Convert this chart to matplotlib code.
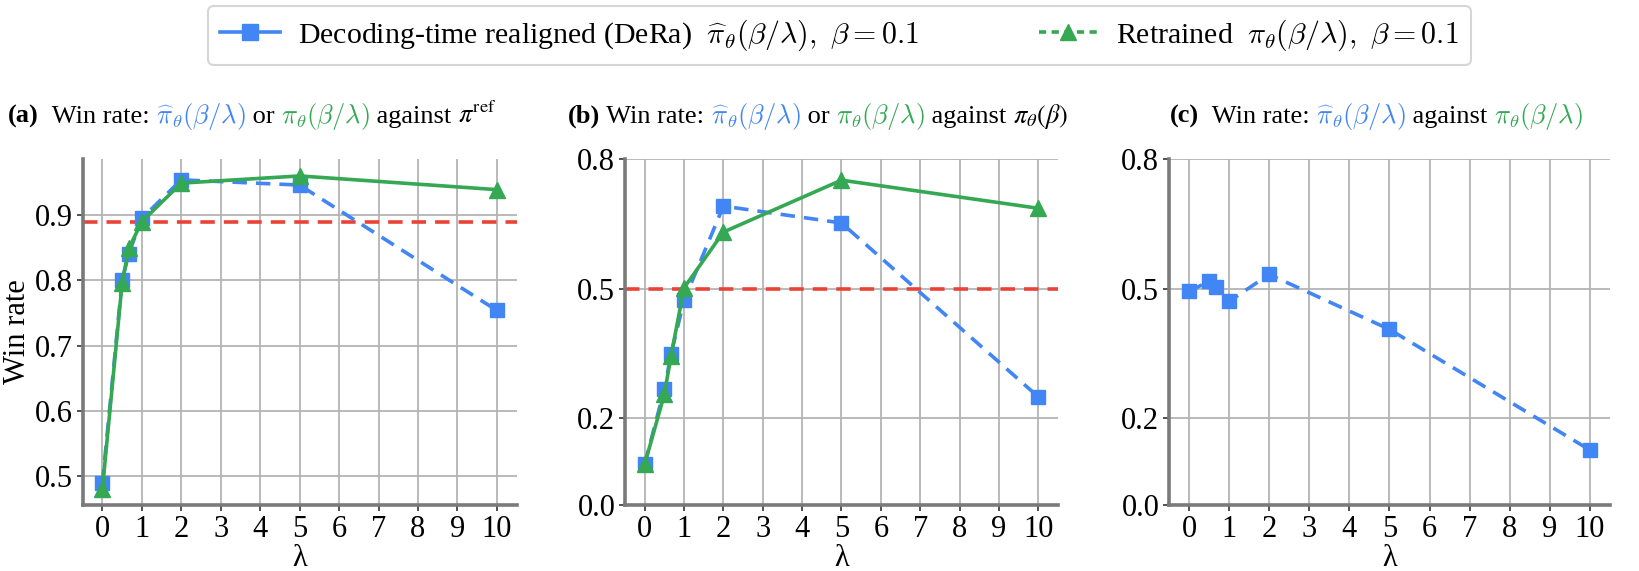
import numpy as np
import matplotlib
matplotlib.use("Agg")
import matplotlib.pyplot as plt
from matplotlib.lines import Line2D
from matplotlib.offsetbox import TextArea, HPacker, AnchoredOffsetbox

plt.rcParams['font.family'] = ['Liberation Serif', 'DejaVu Serif']
plt.rcParams['mathtext.fontset'] = 'cm'

BLUE = '#4285F4'
GREEN = '#34A853'
RED = '#EA4335'

lam = [0, 0.5, 0.67, 1, 2, 5, 10]

# (a) against pi_ref
dera_a = [0.489, 0.800, 0.841, 0.895, 0.954, 0.946, 0.754]
retr_a = [0.480, 0.796, 0.849, 0.890, 0.949, 0.960, 0.939]
base_a = 0.89

# (b) against pi_theta(beta)
dera_b = [0.094, 0.268, 0.349, 0.473, 0.691, 0.652, 0.250]
retr_b = [0.094, 0.256, 0.345, 0.502, 0.631, 0.751, 0.686]
base_b = 0.5

# (c) dera against retrained
dera_c = [0.494, 0.517, 0.505, 0.471, 0.533, 0.406, 0.127]

xticks = list(range(11))

fig = plt.figure(figsize=(16.4, 5.71), dpi=100)
ax_a = fig.add_axes([0.0504, 0.1156, 0.2646, 0.606])
ax_b = fig.add_axes([0.3811, 0.1156, 0.2640, 0.606])
ax_c = fig.add_axes([0.7128, 0.1156, 0.2689, 0.606])

TICK_FS = 22


def style(ax):
    ax.grid(True, color='#b4b4b4', lw=1.3)
    ax.set_axisbelow(True)
    for s in ['top', 'right']:
        ax.spines[s].set_visible(False)
    for s in ['left', 'bottom']:
        ax.spines[s].set_color('#7a7a7a')
        ax.spines[s].set_linewidth(2.6)
    ax.tick_params(labelsize=TICK_FS, length=4, width=1.2, color='#333333', pad=3)
    ax.set_xticks(xticks)
    ax.set_xlim(-0.5, 10.5)
    ax.set_xlabel('λ', fontsize=TICK_FS, labelpad=0)


def dera(ax, y):
    ax.plot(lam, y, ls='--', color=BLUE, lw=2.6, marker='s', ms=10,
            dashes=(4, 2.5), zorder=3)


def retr(ax, y):
    ax.plot(lam, y, ls='-', color=GREEN, lw=2.6, marker='^', ms=11, zorder=4)


for ax in (ax_a, ax_b, ax_c):
    style(ax)

dera(ax_a, dera_a)
retr(ax_a, retr_a)
ax_a.axhline(base_a, color=RED, ls='--', lw=2.6, dashes=(4, 2.5), zorder=2)
ax_a.set_ylim(0.456, 0.986)
ax_a.set_yticks([0.5, 0.6, 0.7, 0.8, 0.9])
ax_a.set_ylabel('Win rate', fontsize=TICK_FS, labelpad=2)

dera(ax_b, dera_b)
retr(ax_b, retr_b)
ax_b.axhline(base_b, color=RED, ls='--', lw=2.6, dashes=(4, 2.5), zorder=2)
ax_b.set_ylim(0, 0.8)
ax_b.set_yticks([0.0, 0.2, 0.5, 0.8])

dera(ax_c, dera_c)
ax_c.set_ylim(0, 0.8)
ax_c.set_yticks([0.0, 0.2, 0.5, 0.8])

# titles with coloured pieces
hat = r'$\widehat{\pi}_\theta(\beta/\lambda)$'
pl = r'$\pi_\theta(\beta/\lambda)$'
fs = 19


def title(x_px, pieces):
    boxes = []
    for txt, col, extra in pieces:
        props = dict(color=col, fontsize=fs)
        props.update(extra)
        boxes.append(TextArea(txt, textprops=props))
    pack = HPacker(children=boxes, align='baseline', pad=0, sep=0)
    ab = AnchoredOffsetbox(loc='lower left', child=pack, pad=0, frameon=False,
                           bbox_to_anchor=(x_px / 1640, 1 - 132 / 571),
                           bbox_transform=fig.transFigure, borderpad=0)
    fig.add_artist(ab)


bold = {'fontweight': 'bold'}
stix = {'math_fontfamily': 'stix'}
title(8, [('(a)', 'black', bold), ('  Win rate: ', 'black', {}),
          (hat, BLUE, {}), (' or ', 'black', {}), (pl, GREEN, {}),
          (' against ', 'black', {}), (r'$\pi^{\mathrm{ref}}$', 'black', stix)])
title(568, [('(b)', 'black', bold), (' Win rate: ', 'black', {}),
            (hat, BLUE, {}), (' or ', 'black', {}), (pl, GREEN, {}),
            (' against ', 'black', {}), (r'$\pi_\theta(\beta)$', 'black', stix)])
title(1170, [('(c)', 'black', bold), ('  Win rate: ', 'black', {}),
             (hat, BLUE, {}), (' against ', 'black', {}), (pl, GREEN, {})])

handles = [
    Line2D([], [], color=BLUE, ls='-', lw=2.6, marker='s', ms=11),
    Line2D([], [], color=GREEN, ls='--', lw=2.6, marker='^', ms=12, dashes=(2, 1.5)),
]
labels = [
    r'Decoding-time realigned (DeRa)  $\widehat{\pi}_\theta(\beta/\lambda),\ \beta=0.1$',
    r'Retrained  $\pi_\theta(\beta/\lambda),\ \beta=0.1$',
]
leg = fig.legend(handles, labels, loc='upper center', bbox_to_anchor=(0.512, 0.99),
                 ncol=2, fontsize=21.5, frameon=True, fancybox=True, shadow=False,
                 columnspacing=4.0, handlelength=2.0, borderpad=0.4, handletextpad=0.6,
                 borderaxespad=0)
leg.get_frame().set_edgecolor('#cccccc')
leg.get_frame().set_linewidth(1.5)

fig.savefig('out.png', dpi=100)
